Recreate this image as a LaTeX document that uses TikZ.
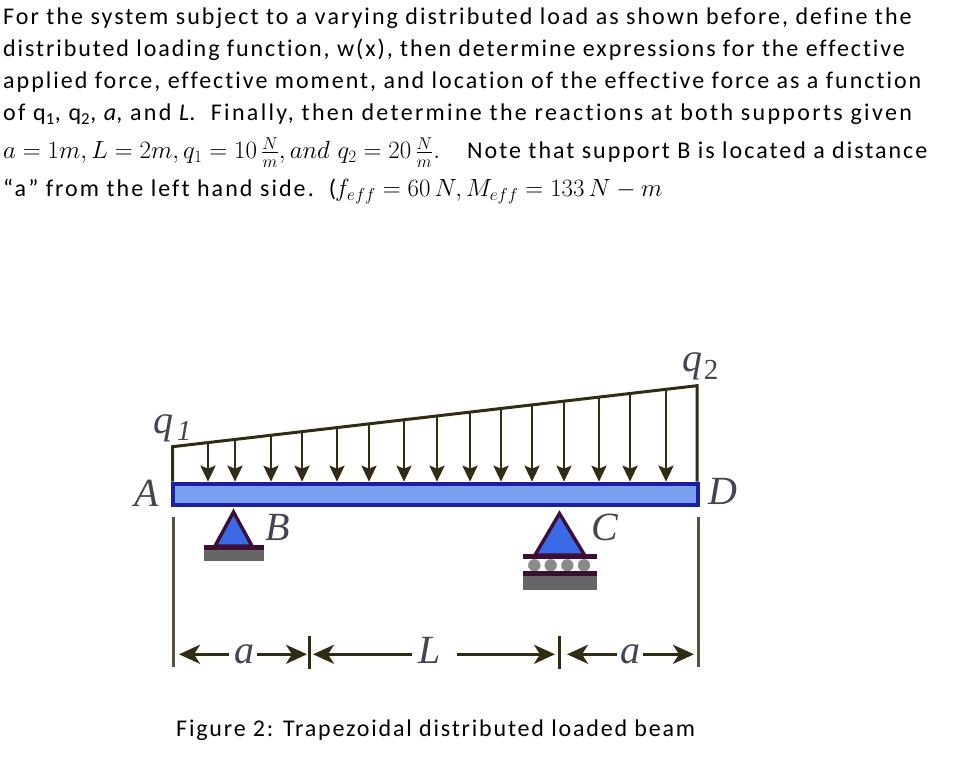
\documentclass[tikz,border=0pt]{standalone}
\usepackage{amsmath}
\usepackage[no-math]{fontspec}
\usepackage{tikz}
\usetikzlibrary{arrows.meta, calc, positioning}
\newfontfamily\bodyfont[LetterSpace=8, Ligatures=NoCommon]{Carlito}
\newfontfamily\labelfont{Liberation Serif}
\definecolor{beamblue}{HTML}{7A9FEE}
\definecolor{beamedge}{HTML}{1C1F9E}
\definecolor{triblue}{HTML}{3A6AE8}
\definecolor{supedge}{HTML}{3D0F35}
\definecolor{loadline}{HTML}{332C14}
\definecolor{dimgray}{HTML}{5A5240}
\definecolor{labelgray}{HTML}{444455}
\definecolor{groundgray}{HTML}{666666}
\definecolor{rollgray}{HTML}{8A8A8A}
\tikzset{
	textline/.style={anchor=base west, inner sep=0pt, font=\bodyfont\fontsize{24}{24}\selectfont},
	mathline/.style={anchor=base west, inner sep=0pt, font=\fontsize{25.5}{25.5}\selectfont},
	beamlabel/.style={inner sep=0pt, text=labelgray, font=\labelfont\fontsize{40}{40}\selectfont},
	sublabel/.style={inner sep=0pt, text=labelgray, font=\labelfont\fontsize{29}{29}\selectfont},
	loadarrow/.style={draw=loadline, line width=2.7pt, -{Stealth[length=16pt, width=15pt, inset=3pt]}},
	loadedge/.style={draw=loadline, line width=3pt},
	dimarrow/.style={draw=loadline, line width=3pt, -{Stealth[length=21pt, width=19pt, inset=6pt]}},
	dimline/.style={draw=dimgray, line width=3pt},
	dimtick/.style={inner sep=0pt, minimum width=3.4pt, minimum height=33pt, fill=loadline},
	support/.style={draw=supedge, line width=3.4pt, fill=triblue, line join=miter},
	supbar/.style={fill=supedge, inner sep=0pt},
	ground/.style={fill=groundgray, inner sep=0pt},
	roller/.style={circle, fill=rollgray, draw=black!40, line width=0.4pt, minimum size=12pt, inner sep=0pt}
}
\begin{document}
\begin{tikzpicture}[x=1pt, y=-1pt]
	\useasboundingbox (0,0) rectangle (954,770);
	% problem statement
	\node[textline] (line1) at (3,25) {\addfontfeature{LetterSpace=8.5}For the system subject to a varying distributed load as shown before, define the};
	\node[textline] (line2) at (3,57) {distributed loading function, w(x), then determine expressions for the effective};
	\node[textline] (line3) at (3,89) {\addfontfeature{LetterSpace=8.3}applied force, effective moment, and location of the effective force as a function};
	\node[textline] (line4) at (3,121) {\addfontfeature{LetterSpace=9.7}of q\textsubscript{1}, q\textsubscript{2}, \textit{a}, and \textit{L}.\ \ Finally, then determine the reactions at both supports given};
	\node[mathline] (line5a) at (3,159) {$a=1m,L=2m,q_1=10\,\frac{N}{m},and\ q_2=20\,\frac{N}{m}.$};
	\node[textline] (line5b) at (467,159) {\addfontfeature{LetterSpace=8.3}Note that support B is located a distance};
	\node[textline] (line6a) at (3,197) {\addfontfeature{LetterSpace=8.6}“a” from the left hand side.\ \ (};
	\node[mathline] (line6b) at (335,197) {$f_{eff}=60\,N,M_{eff}=133\,N-m$};
	\node[textline] (caption) at (176,736) {\addfontfeature{LetterSpace=7.6}Figure 2: Trapezoidal distributed loaded beam};
	% beam
	\node[draw=beamedge, fill=beamblue, line width=4.2pt, minimum width=525pt, minimum height=20.8pt, inner sep=0pt] (beam) at (435.4,494.2) {};
	% load
	\coordinate (qa) at (172.5,446.7);
	\coordinate (qb) at (697,385.7);
	\draw[loadedge] (qa |- beam.north) -- (qa) -- (qb) -- (qb |- beam.north);
	\foreach \x in {208,235,271,302,337,369,404,437,470,501,532,564,599,630,666} {
		\coordinate (top\x) at ($(qa)!{(\x-172.5)/524.5}!(qb)$);
		\draw[loadarrow] (top\x) -- (top\x |- beam.north);
	}
	% support B
	\coordinate (apexB) at (233.5,512);
	\draw[support] (apexB) -- (215,546) -- (252,546) -- cycle;
	\node[supbar, minimum width=60pt, minimum height=5pt] (barB) at (233.5,547) {};
	\node[ground, minimum width=60pt, minimum height=11.5pt, below=0pt of barB] (groundB) {};
	% support C
	\coordinate (apexC) at (559.5,513.5);
	\draw[support] (apexC) -- (535,555) -- (584.5,555) -- cycle;
	\node[supbar, minimum width=74pt, minimum height=5pt] (barC) at (559.7,556.5) {};
	\foreach \x/\n in {534.3/1, 550.7/2, 567.3/3, 584/4}
		\node[roller] (roll\n) at (\x,565.3) {};
	\node[supbar, minimum width=74pt, minimum height=5pt] (barCb) at (559.7,573.5) {};
	\node[ground, minimum width=74pt, minimum height=14pt, below=0pt of barCb] (groundC) {};
	% labels
	\node[beamlabel] (labA) at (147,493) {\textit{A}};
	\node[beamlabel] (labB) at (278,527) {\textit{B}};
	\node[beamlabel] (labC) at (605,527) {\textit{C}};
	\node[beamlabel] (labD) at (723,491) {\textit{D}};
	\node[beamlabel] (labq1) at (163,428) {\textit{q}};
	\node[sublabel] (labs1) at (184,431) {\textit{1}};
	\node[beamlabel] (labq2) at (692,366) {\textit{q}};
	\node[sublabel] (labs2) at (711,370) {2};
	% dimensions
	\coordinate (dimA) at (173.7,516.7);
	\coordinate (dimAb) at (173.7,666.7);
	\coordinate (dimD) at (698,516.7);
	\coordinate (dimDb) at (698,666.7);
	\draw[dimline] (dimA) -- (dimAb);
	\draw[dimline] (dimD) -- (dimDb);
	\node[dimtick] (tickB) at (309.7,652.5) {};
	\node[dimtick] (tickC) at (559.3,652.5) {};
	\node[beamlabel] (dima) at (244,654) {\textit{a}};
	\node[beamlabel] (dimL) at (430,650) {\textit{L}};
	\node[beamlabel] (dimb) at (630,654) {\textit{a}};
	\draw[dimarrow] (229,654.3) -- (179,654.3);
	\draw[dimarrow] (257,654.3) -- (307,654.3);
	\draw[dimarrow] (412,654.3) -- (313,654.3);
	\draw[dimarrow] (457,654.3) -- (555,654.3);
	\draw[dimarrow] (617,654.3) -- (567,654.3);
	\draw[dimarrow] (643,654.3) -- (694,654.3);
\end{tikzpicture}
\end{document}
